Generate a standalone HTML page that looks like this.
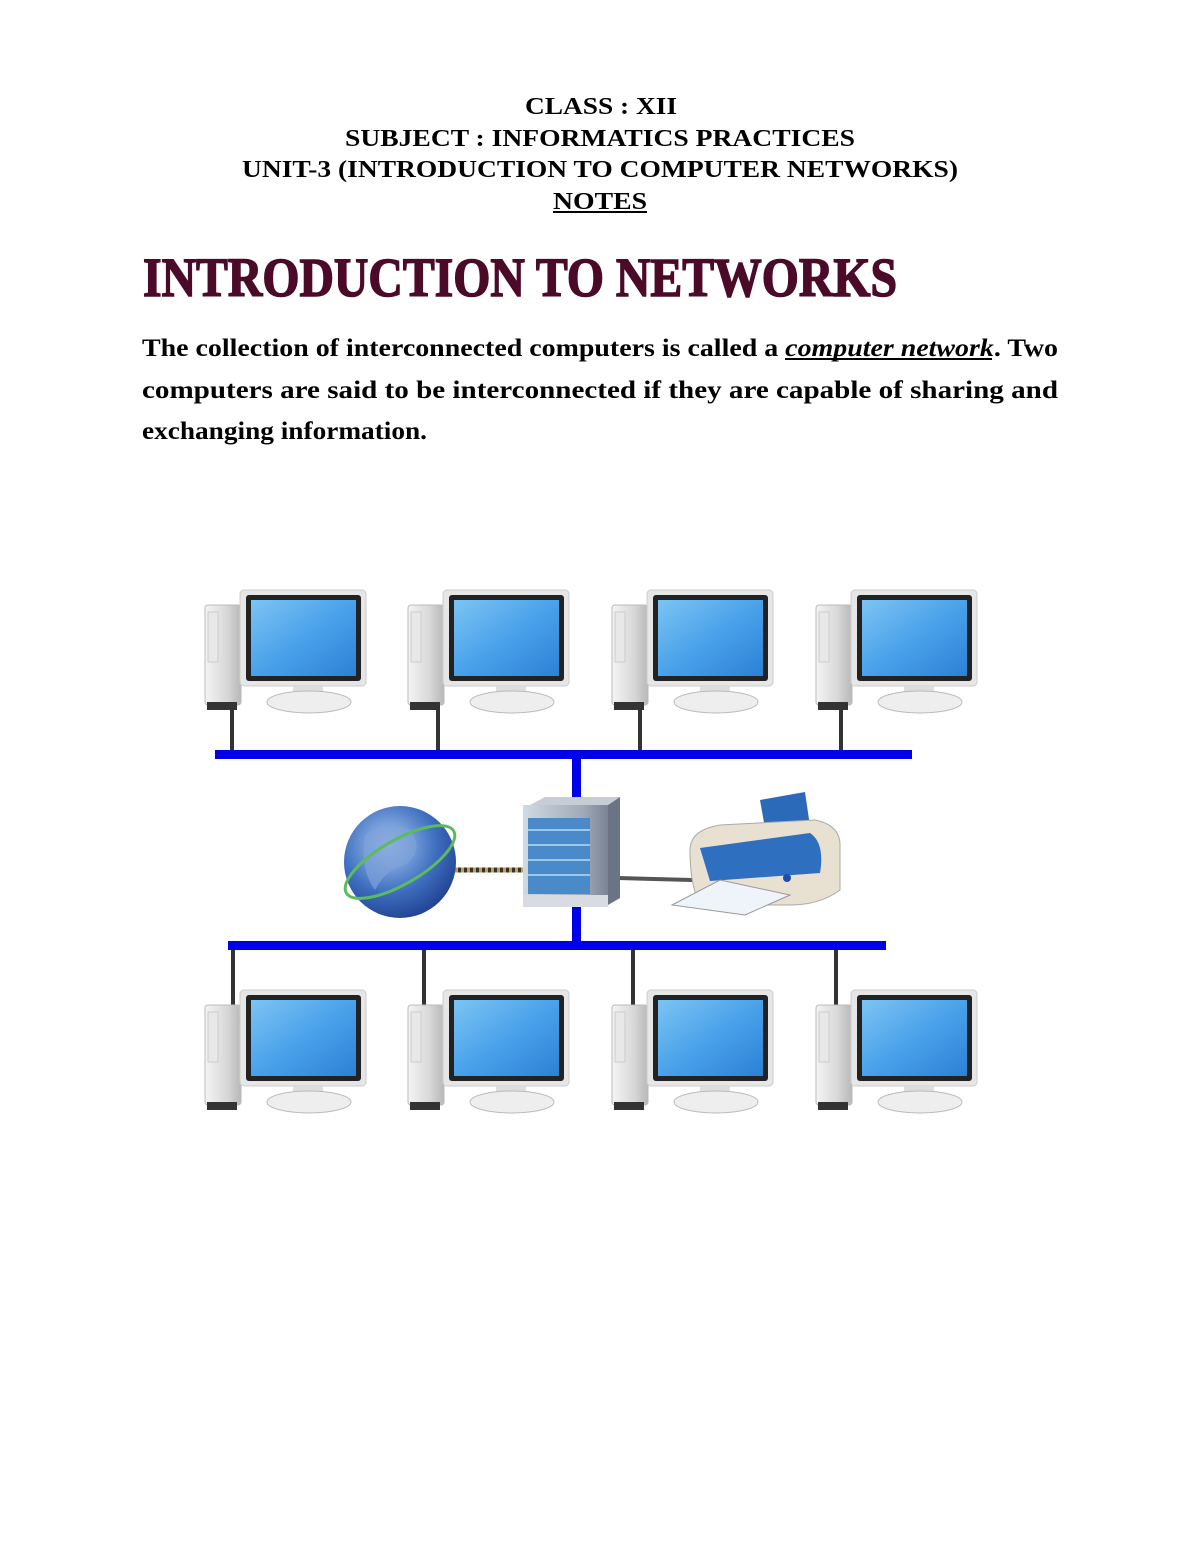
<!DOCTYPE html>
<html><head><meta charset="utf-8"><style>
html,body{margin:0;padding:0;background:#fff;}
svg{display:block;}
text{font-family:"Liberation Serif",serif;font-weight:bold;fill:#000;}
</style></head><body>
<svg width="1200" height="1553" viewBox="0 0 1200 1553" xmlns="http://www.w3.org/2000/svg">
<defs>
<linearGradient id="scr" x1="0" y1="0" x2="1" y2="1">
<stop offset="0" stop-color="#7cc4f4"/><stop offset="0.5" stop-color="#4aa2ea"/><stop offset="1" stop-color="#2d80d6"/></linearGradient>
<linearGradient id="tw" x1="0" y1="0" x2="1" y2="0">
<stop offset="0" stop-color="#f4f4f4"/><stop offset="0.6" stop-color="#d8d8d8"/><stop offset="1" stop-color="#b8b8b8"/></linearGradient>
<radialGradient id="gl" cx="0.4" cy="0.35" r="0.7">
<stop offset="0" stop-color="#a8c8f0"/><stop offset="0.6" stop-color="#3f6fc0"/><stop offset="1" stop-color="#1f3f90"/></radialGradient>
<linearGradient id="sv" x1="0" y1="0" x2="1" y2="0">
<stop offset="0" stop-color="#d0dae4"/><stop offset="0.7" stop-color="#a0aab8"/><stop offset="1" stop-color="#7a8494"/></linearGradient>
<g id="pc">
<rect x="0" y="15" width="36" height="100" rx="3" fill="url(#tw)" stroke="#bbb"/>
<rect x="3" y="22" width="10" height="50" fill="#e8e8e8" stroke="#ccc"/>
<rect x="2" y="112" width="30" height="8" fill="#333"/>
<rect x="35" y="0" width="126" height="96" rx="4" fill="#e6e6e6" stroke="#ccc"/>
<rect x="41" y="5" width="115" height="86" rx="3" fill="#222"/>
<rect x="46" y="10" width="105" height="76" fill="url(#scr)"/>
<rect x="88" y="96" width="30" height="10" fill="#ddd"/>
<ellipse cx="104" cy="112" rx="42" ry="11" fill="#eee" stroke="#bbb"/>
</g>
</defs>
<rect width="1200" height="1553" fill="#fff"/>

<text x="525" y="114" font-size="24" textLength="152" lengthAdjust="spacingAndGlyphs">CLASS : XII</text>
<text x="345" y="146" font-size="24" textLength="510" lengthAdjust="spacingAndGlyphs">SUBJECT : INFORMATICS PRACTICES</text>
<text x="242" y="177" font-size="24" textLength="716" lengthAdjust="spacingAndGlyphs">UNIT-3 (INTRODUCTION TO COMPUTER NETWORKS)</text>
<text x="553" y="209" font-size="24" textLength="94" lengthAdjust="spacingAndGlyphs">NOTES</text>
<rect x="553" y="211" width="94" height="2" fill="#000"/>

<text x="143" y="296" font-size="55" style="font-weight:900;fill:#4a0a28;stroke:#4a0a28;stroke-width:1.5" textLength="754" lengthAdjust="spacingAndGlyphs">INTRODUCTION TO NETWORKS</text>

<text x="142" y="356" font-size="25" textLength="916" lengthAdjust="spacingAndGlyphs">The collection of interconnected computers is called a <tspan font-style="italic">computer network</tspan>. Two</text>
<rect x="785" y="358" width="207" height="2" fill="#000"/>
<text x="142" y="398" font-size="25" textLength="916" lengthAdjust="spacingAndGlyphs">computers are said to be interconnected if they are capable of sharing and</text>
<text x="142" y="439" font-size="25" textLength="285" lengthAdjust="spacingAndGlyphs">exchanging information.</text>

<g fill="#333">
<rect x="230" y="700" width="4" height="52"/><rect x="436" y="700" width="4" height="52"/>
<rect x="638" y="700" width="4" height="52"/><rect x="839" y="700" width="4" height="52"/>
<rect x="231" y="947" width="4" height="58"/><rect x="422" y="947" width="4" height="58"/>
<rect x="631" y="947" width="4" height="58"/><rect x="834" y="947" width="4" height="58"/>
</g>
<rect x="215" y="750" width="697" height="9" fill="#0000e8"/>
<rect x="572" y="756" width="9" height="190" fill="#0000e8"/>
<rect x="228" y="941" width="658" height="9" fill="#0000e8"/>

<use href="#pc" x="205" y="590"/><use href="#pc" x="408" y="590"/>
<use href="#pc" x="612" y="590"/><use href="#pc" x="816" y="590"/>
<use href="#pc" x="205" y="990"/><use href="#pc" x="408" y="990"/>
<use href="#pc" x="612" y="990"/><use href="#pc" x="816" y="990"/>

<line x1="455" y1="870" x2="526" y2="870" stroke="#333" stroke-width="5"/>
<line x1="455" y1="870" x2="526" y2="870" stroke="#c8a040" stroke-width="5" stroke-dasharray="3 3"/>
<line x1="618" y1="878" x2="692" y2="880" stroke="#555" stroke-width="4"/>
<circle cx="400" cy="862" r="56" fill="url(#gl)"/>
<path d="M365 835 q20 -15 45 -5 q15 20 -5 35 q-20 5 -30 25 q-15 -20 -10 -55z" fill="#7fa3d8" opacity="0.7"/>
<ellipse cx="400" cy="862" rx="62" ry="22" transform="rotate(-30 400 862)" fill="none" stroke="#5cbc5c" stroke-width="3"/>
<polygon points="530,805 545,797 620,797 608,805" fill="#c8ccd4"/>
<rect x="523" y="805" width="85" height="100" fill="url(#sv)"/>
<polygon points="608,805 620,797 620,898 608,905" fill="#6a7484"/>
<rect x="528" y="818" width="62" height="76" fill="#4a8ac8"/>
<g stroke="#9cc8ec" stroke-width="2"><line x1="528" y1="830" x2="590" y2="830"/><line x1="528" y1="845" x2="590" y2="845"/><line x1="528" y1="860" x2="590" y2="860"/><line x1="528" y1="875" x2="590" y2="875"/></g>
<rect x="523" y="895" width="85" height="12" fill="#d8dce2"/>
<polygon points="760,800 805,792 812,840 768,845" fill="#2a6ab8"/>
<path d="M690 850 q0 -20 30 -25 l95 -5 q25 5 25 25 l0 45 q-20 15 -50 15 l-90 0 q-10 -20 -10 -55z" fill="#e8e0d0" stroke="#aaa"/>
<path d="M700 848 l110 -15 q15 10 10 40 l-110 8z" fill="#2f6fc0"/>
<polygon points="672,905 720,880 790,895 745,915" fill="#eef4fa" stroke="#999"/>
<circle cx="787" cy="878" r="4" fill="#1a4fb0"/>
</svg>
</body></html>
